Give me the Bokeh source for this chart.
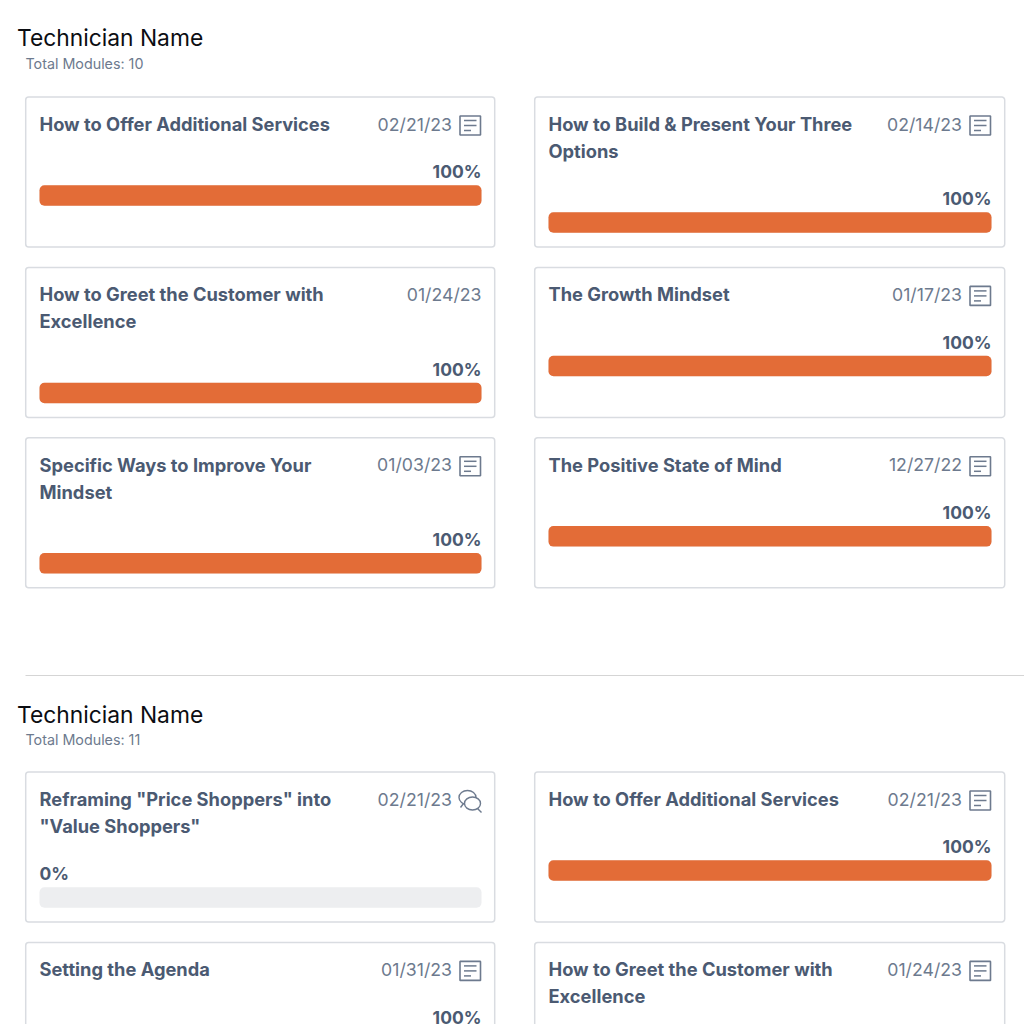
from bokeh.core.properties import value
from bokeh.embed import file_html
from bokeh.models import Range1d
from bokeh.plotting import figure
from bokeh.resources import INLINE

# first technician
group1_total = "Total Modules: 10"
group1_titles = [
    "How to Offer Additional Services",
    "How to Build & Present Your Three\nOptions",
    "How to Greet the Customer with\nExcellence",
    "The Growth Mindset",
    "Specific Ways to Improve Your\nMindset",
    "The Positive State of Mind",
]
group1_dates = ["02/21/23", "02/14/23", "01/24/23", "01/17/23", "01/03/23", "12/27/22"]
group1_percents = [100, 100, 100, 100, 100, 100]
group1_icons = ["doc", "doc", None, "doc", "doc", "doc"]

# second technician, the page cuts off after the second row
group2_total = "Total Modules: 11"
group2_titles = [
    'Reframing "Price Shoppers" into\n"Value Shoppers"',
    "How to Offer Additional Services",
    "Setting the Agenda",
    "How to Greet the Customer with\nExcellence",
]
group2_dates = ["02/21/23", "02/21/23", "01/31/23", "01/24/23"]
group2_percents = [0, 100, 100, 100]
group2_icons = ["chat", "doc", "doc", "doc"]

technician = "Technician Name"

ORANGE = "#e36c37"
TRACK = "#edeef0"
BORDER = "#d9dce1"
DARK = "#4b5a72"
GREY = "#6d7a8e"
FONT = value("Inter")

COL_X = [25.2, 534.2]
CARD_W = [469, 470]
ROW_STEP = 170.4
CARD_H = 150
BAR_H = 20.5

# page pixels as data units, y runs downward
p = figure(width=1024, height=1024, output_backend="svg", toolbar_location=None,
           x_range=Range1d(0, 1024), y_range=Range1d(1024, 0),
           x_axis_type=None, y_axis_type=None, min_border=0, outline_line_color=None)
p.grid.visible = False
p.background_fill_color = "white"
p.border_fill_color = "white"


def draw_icon(kind, right, mid):
    if kind == "doc":
        p.quad(left=[right - 21.5], right=[right - 1], top=[mid - 9.5], bottom=[mid + 9.5],
               fill_color="white", line_color=GREY, line_width=1.6)
        p.segment(x0=[right - 17.5] * 3, x1=[right - 5, right - 5, right - 10.5],
                  y0=[mid - 5, mid, mid + 5], y1=[mid - 5, mid, mid + 5],
                  line_color=GREY, line_width=1.5)
    elif kind == "chat":
        p.ellipse(x=[right - 14], y=[mid - 3], width=[17], height=[14],
                  fill_color="white", line_color=GREY, line_width=1.4)
        p.segment(x0=[right - 18], y0=[mid + 3], x1=[right - 21], y1=[mid + 7],
                  line_color=GREY, line_width=1.4)
        p.ellipse(x=[right - 9], y=[mid + 3], width=[16], height=[13],
                  fill_color="white", line_color=GREY, line_width=1.4)
        p.segment(x0=[right - 4], y0=[mid + 8], x1=[right], y1=[mid + 12],
                  line_color=GREY, line_width=1.4)


def draw_group(head_y, sub_y, cards_y, total, titles, dates, percents, icons):
    p.text(x=[16.5], y=[head_y], text=[technician], text_font=FONT, text_font_size="22.8px",
           text_color="#0b0d12", text_baseline="middle")
    p.text(x=[25], y=[sub_y], text=[total], text_font=FONT, text_font_size="14.3px",
           text_color=GREY, text_baseline="middle")

    for i, title in enumerate(titles):
        col = i % 2
        top = cards_y + (i // 2) * ROW_STEP
        x0 = COL_X[col]
        inner_l = x0 + 13.8
        inner_r = x0 + CARD_W[col] - 13.2
        p.quad(left=[x0], right=[x0 + CARD_W[col]], top=[top], bottom=[top + CARD_H],
               fill_color="white", line_color=BORDER, line_width=1.5, border_radius=3)

        lines = title.split("\n")
        for n, line in enumerate(lines):
            p.text(x=[inner_l], y=[top + 27 + n * 27], text=[line], text_font=FONT,
                   text_font_size="18.3px", text_font_style="bold", text_color=DARK,
                   text_baseline="middle")

        date_r = inner_r - 29.5 if icons[i] else inner_r
        p.text(x=[date_r], y=[top + 27], text=[dates[i]], text_font=FONT,
               text_font_size="17.7px", text_color=GREY, text_align="right",
               text_baseline="middle")
        draw_icon(icons[i], inner_r, top + 28.5)

        extra = 27 * (len(lines) - 1)
        bar_top = top + 88.3 + extra
        pct_y = bar_top - 13.5
        if pct_y > 1030:
            continue
        if percents[i] == 0:
            p.text(x=[inner_l], y=[pct_y], text=["0%"], text_font=FONT, text_font_size="17.5px",
                   text_font_style="bold", text_color=DARK, text_baseline="middle")
        else:
            p.text(x=[inner_r], y=[pct_y], text=[f"{percents[i]}%"], text_font=FONT,
                   text_font_size="17.5px", text_font_style="bold", text_color=DARK,
                   text_align="right", text_baseline="middle")
        bar_w = inner_r - inner_l
        p.quad(left=[inner_l], right=[inner_r], top=[bar_top], bottom=[bar_top + BAR_H],
               fill_color=TRACK, line_color=None, border_radius=5)
        if percents[i] > 0:
            p.quad(left=[inner_l], right=[inner_l + bar_w * percents[i] / 100],
                   top=[bar_top], bottom=[bar_top + BAR_H],
                   fill_color=ORANGE, line_color=None, border_radius=5)


draw_group(36.5, 62.5, 96.5, group1_total, group1_titles, group1_dates, group1_percents, group1_icons)
p.segment(x0=[25], x1=[1024], y0=[675], y1=[675], line_color="#d5d5d5", line_width=1.2)
draw_group(713.5, 738.5, 771.5, group2_total, group2_titles, group2_dates, group2_percents, group2_icons)

open("out.html", "w").write(file_html(p, INLINE))
